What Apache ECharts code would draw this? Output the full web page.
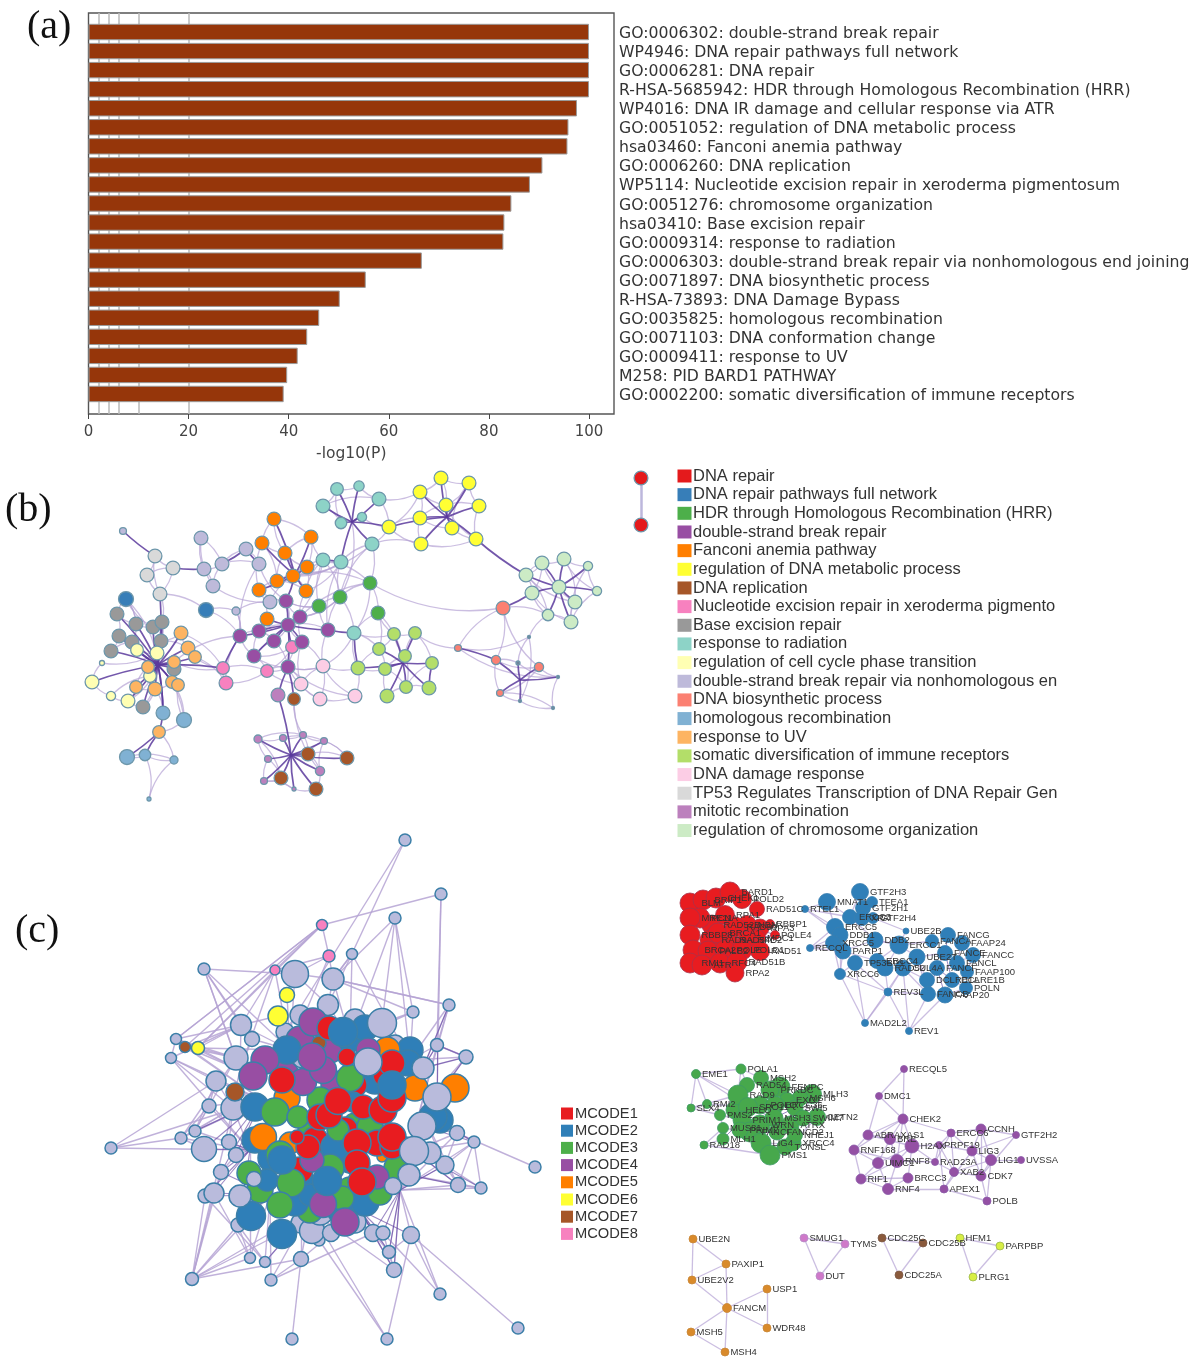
<!DOCTYPE html>
<html><head><meta charset="utf-8">
<style>html,body{margin:0;padding:0;background:#fff}#c{width:1200px;height:1370px}</style>
<script src="https://cdn.jsdelivr.net/npm/echarts@6/dist/echarts.min.js"></script>
</head><body><div id="c"></div>
<script>
// ---------- panel (a) ----------
const terms = ["GO:0006302: double-strand break repair","WP4946: DNA repair pathways full network","GO:0006281: DNA repair","R-HSA-5685942: HDR through Homologous Recombination (HRR)","WP4016: DNA IR damage and cellular response via ATR","GO:0051052: regulation of DNA metabolic process","hsa03460: Fanconi anemia pathway","GO:0006260: DNA replication","WP5114: Nucleotide excision repair in xeroderma pigmentosum","GO:0051276: chromosome organization","hsa03410: Base excision repair","GO:0009314: response to radiation","GO:0006303: double-strand break repair via nonhomologous end joining","GO:0071897: DNA biosynthetic process","R-HSA-73893: DNA Damage Bypass","GO:0035825: homologous recombination","GO:0071103: DNA conformation change","GO:0009411: response to UV","M258: PID BARD1 PATHWAY","GO:0002200: somatic diversification of immune receptors"];
const logP = [100,100,100,100,97.6,95.9,95.7,90.7,88.2,84.5,83.1,82.9,66.6,55.4,50.2,46.1,43.7,41.8,39.7,39.0];
const xTicks = [0,20,40,60,80,100];
const guideTicks = [2,4,6,10,20];
const panelLabels = [["(a)",27,27],["(b)",5,510],["(c)",15,931]];

// ---------- panel (b): enrichment-term network, nodes read as [x, y, size] ----------
const bNames = ["DNA repair","DNA repair pathways full network","HDR through Homologous Recombination (HRR)","double-strand break repair","Fanconi anemia pathway","regulation of DNA metabolic process","DNA replication","Nucleotide excision repair in xeroderma pigmentosum","Base excision repair","response to radiation","regulation of cell cycle phase transition","double-strand break repair via nonhomologous end joining","DNA biosynthetic process","homologous recombination","response to UV","somatic diversification of immune receptors","DNA damage response","TP53 Regulates Transcription of DNA Repair Genes","mitotic recombination","regulation of chromosome organization","cell cycle checkpoint"];
const bColors = ["#e41a1c","#377eb8","#4daf4a","#984ea3","#ff7f00","#ffff33","#a65628","#f781bf","#999999","#8dd3c7","#ffffb3","#bebada","#fb8072","#80b1d3","#fdb462","#b3de69","#fccde5","#d9d9d9","#bc80bd","#ccebc5","#6f8299"];
const bTP = [[155,556,12],[173,568,12],[147,575,12],[160,594,12]];
const bNH = [[123,531,6],[201,538,12],[204,569,12],[222,564,12],[213,586,12],[246,549,12],[259,564,12],[270,602,12],[236,611,7]];
const bBL = [[126,599,13],[206,610,13]];
const bBE = [[117,614,12],[136,624,12],[153,627,12],[162,622,12],[119,636,12],[132,642,12],[161,641,12],[111,651,12],[174,669,12],[143,707,12]];
const bCC = [[137,650,11],[157,653,12],[150,676,11],[92,682,12],[111,696,8],[128,701,12],[102,663,5]];
const bUV = [[181,633,12],[188,648,12],[195,657,11],[174,662,11],[148,667,11],[136,687,11],[155,689,12],[172,682,11],[178,685,11],[159,732,11]];
const bHR = [[163,713,12],[184,720,13],[127,757,13],[145,755,10],[174,760,7],[149,799,4]];
const bNE = [[223,668,11],[226,683,12],[267,671,11],[292,647,11]];
const bFA = [[274,519,12],[262,543,12],[311,537,12],[285,553,12],[307,567,12],[293,576,12],[277,581,12],[259,590,12],[306,591,12],[267,619,12]];
const bDS = [[286,601,12],[300,617,12],[288,625,12],[259,631,12],[240,636,12],[274,641,12],[302,642,12],[254,656,12],[288,667,12],[328,630,12]];
const bMI = [[278,695,12],[258,739,7],[283,738,6],[303,735,6],[324,741,6],[268,759,6],[320,771,8],[264,781,6],[294,789,4]];
const bRP = [[294,699,11],[308,754,12],[347,758,12],[281,778,12],[316,789,12]];
const bDD = [[323,666,12],[301,684,12],[320,699,12],[355,696,12]];
const bRD = [[337,489,11],[359,486,9],[379,499,12],[323,506,12],[341,523,10],[362,517,8],[372,544,12],[323,560,12],[341,562,12],[354,633,12]];
const bYL = [[389,527,12],[441,478,12],[469,483,12],[420,492,12],[446,505,12],[479,506,12],[420,518,12],[452,528,12],[421,544,12],[476,539,12]];
const bHD = [[370,583,12],[340,597,12],[319,606,12],[378,613,12]];
const bSO = [[394,634,11],[415,633,11],[379,649,11],[405,656,11],[432,663,11],[358,668,12],[385,669,11],[406,687,11],[429,688,12],[387,696,12]];
const bBS = [[503,608,12],[458,648,6],[496,660,8],[539,667,8],[500,693,6]];
const bSB = [[529,637,3],[518,663,4],[558,677,3],[520,701,3],[553,708,3]];
const bCH = [[542,563,12],[564,559,12],[588,566,8],[526,575,12],[559,587,12],[532,593,12],[597,591,8],[575,602,12],[548,615,10],[571,622,12]];
const bBundles = [["h1",158,665],["h2",288,625],["h3",403,663],["h5",352,522],["h6",447,517],["h7",291,755],["h8",520,680],["h9",295,575]];
const bKey = [[641,478,12],[641,525,12]];
const bGroups = [["TP",bTP,17],["NH",bNH,11],["BL",bBL,1],["BE",bBE,8],["CC",bCC,10],["UV",bUV,14],["HR",bHR,13],["NE",bNE,7],["FA",bFA,4],["DS",bDS,3],["MI",bMI,18],["RP",bRP,6],["DD",bDD,16],["RD",bRD,9],["YL",bYL,5],["HD",bHD,2],["SO",bSO,15],["BS",bBS,12],["SB",bSB,20],["CH",bCH,19],["KEY",bKey,0]];
const bDark = "h1:BE1,BE2,BE3,BE4,BE5,BE6,BE7,BE8,BE9,CC0,CC1,CC2,CC3,CC5,UV0,UV1,UV2,UV3,UV4,UV5,UV6,UV7,UV8,NE0,TP3,HR0,BE0;h9:FA0,FA1,FA2,FA3,FA4,FA5,FA6,FA7,FA8,DS0;h2:DS0,DS1,DS3,DS4,DS5,DS6,DS7,DS8,DS9,FA9,NE3;h5:RD0,RD1,RD2,RD3,RD4,RD5,RD6,YL0,RD8;h6:YL0,YL1,YL2,YL3,YL4,YL5,YL6,YL7,YL8,YL9;h3:SO0,SO1,SO2,SO3,SO4,SO5,SO6,SO7,SO8,SO9;h7:MI0,MI1,MI2,MI3,MI4,MI5,MI6,MI7,MI8,RP1,RP2,RP3,RP4;CH4:CH0,CH1,CH2,CH3,CH5,CH6,CH7,CH8,CH9;h8:BS2,BS3,BS4,SB1,SB2,SB3;DS8:MI0,RP0;DS4:NE0;TP1:NH2;NH0:TP0;NH3:NH5;NH5:NH6;RD8:RD7;UV9:HR0,HR2,HR3;HR0:h1;DS9:RD9;RD9:SO5;BS0:CH5;BS2:BS1;YL9:CH3;SO4:SO8";
const bLight = "TP0:TP1,TP2,TP3;TP1:TP2,TP3;TP2:TP3;NH1:NH2,NH3,NH4;NH2:NH3,NH4;NH3:NH4,NH6;NH5:NH3,NH6;NH4:NH7;NH6:DS0;NH7:NH8,h9;NH8:BL1,DS4;BL1:TP3,DS4;BL0:BE0,BE1,BE2,h1;UV9:HR1,HR4;HR1:h1;HR2:HR3,HR4;HR3:HR4,HR5;HR4:HR5;CC3:CC4,CC6;CC4:CC5,CC2;CC6:CC1;CC5:h1;NE0:NE1,NE2;NE1:NE2,DS4;NE2:NE3,DS8,DD1;NE3:DS8,DS7;DD0:DD1,DD2,DD3,DS8,SO5;DD1:DD2;DD2:DD3;DD3:SO5,DS8;RP0:MI6;RP2:MI4;HD0:HD1,HD3,BS0,RD9,h9;HD1:HD2,DS1,h5,RD8;HD2:DS9,DS0;HD3:RD9,h3;RD9:HD1,DD0,SO5;RD6:RD8,YL8,YL0,h9;RD7:h9,h2,RD8;RD8:DS9,h9;RD0:RD1,RD3;RD1:RD2;RD2:RD3,YL0;RD4:RD3,RD0;YL0:YL3,YL6,YL8;YL3:YL1,YL6;YL1:YL2,YL4;YL2:YL5,YL4;YL5:YL9;YL7:YL9;YL8:YL9,YL6;CH3:CH0,CH5;CH0:CH1;CH1:CH2;CH2:CH6;CH8:SB0,CH9,BS0;CH7:CH9;CH5:CH8;BS0:BS1,BS2,BS3;BS1:SB0,SO1,SB2;BS2:BS3,SB1,BS4;BS3:SB2,BS4;BS4:SB3,SB4;SB0:SB1,SB3;SB2:SB4,SB1;SB3:SB4;FA0:FA1,FA2,FA3;FA1:FA3,FA6,FA7;FA2:FA3,FA4,RD7;FA3:FA4,FA5,FA6;FA4:FA5,FA8,RD7;FA5:FA6,FA8,RD8;FA6:FA7,FA8;FA7:DS0,FA9;FA8:DS1,RD7,RD8;DS0:DS1,DS2,HD2;DS1:DS6,DS2,HD1,HD0;DS2:DS3,DS5,DS6,DS9;DS3:DS4,DS5,DS7;DS4:DS7,NH6,NH8;DS5:DS7,DS8;DS6:DS8,DD0,DD1;DS7:DS8,NE2;DS8:DD0,DD1,DD2,NE2;DS9:DD0,HD1;RD7:HD2,HD1;RD6:HD1,HD0;HD0:RD7;RD9:SO0,SO2;SO0:SO1,SO2,SO3;SO1:SO3,SO4;SO2:SO5,SO6;SO3:SO6,SO7;SO4:SO7;SO5:SO6;SO6:SO9,SO7;SO7:SO9,SO8;HD3:SO0,SO2;BE0:BE1,BE4;BE1:BE2,BE5,BL0;BE2:BE3;BE3:TP3,BE6;BE4:BE5,BE7;BE5:BE7,CC0;BE6:UV0,UV1;CC0:CC1;UV0:UV1,NE0;UV1:UV2;UV2:NE0,NE1;UV3:NE0,DS4;UV4:UV5;UV5:UV6,CC5;UV6:UV7,HR0;UV7:UV8,HR1;UV8:HR1;BE8:UV7;BE9:UV6,CC5,h1;YL3:YL4;YL6:YL7,YL4;YL4:YL7,YL5,YL9;YL2:YL7;RD2:YL3;RD5:YL0;CH0:CH3,CH5,CH7;CH1:CH6,CH7;CH3:CH7,CH8;CH5:CH9;CH2:CH9;CH6:CH9;MI1:MI2,MI3,MI5,RP3;MI2:MI3,MI4;MI3:MI4,RP1;MI4:RP1,RP2,MI6;MI5:MI7,RP3;MI6:RP1,RP4;MI7:RP3,MI8;RP0:MI3;RP2:RP1;MI8:RP4,RP3";
const keyLink = "KEY0:KEY1";

// ---------- panel (c): protein network ----------
const mcodeNames = ["MCODE1","MCODE2","MCODE3","MCODE4","MCODE5","MCODE6","MCODE7","MCODE8","unclustered"];
const mcodeColors = ["#e81c20","#2f7fb8","#4daf4a","#984ea3","#ff7f00","#ffff33","#a65628","#f781bf","#b9bbdc"];
const cP = [[405,840,12],[441,894,12],[395,918,12],[352,954,11],[204,969,12],[449,1005,12],[413,1012,12],[437,1045,13],[466,1057,14],[176,1039,11],[171,1058,11],[111,1148,12],[181,1138,12],[195,1131,12],[457,1133,15],[474,1142,12],[535,1167,12],[458,1185,15],[481,1188,12],[445,1165,18],[192,1279,13],[250,1258,11],[265,1262,11],[301,1259,15],[271,1280,12],[319,1240,12],[389,1252,13],[394,1270,15],[440,1294,12],[518,1328,12],[387,1339,12],[292,1339,12]];
const cM = [[295,974,27],[333,979,22],[328,1005,21],[241,1025,21],[252,1039,15],[285,1032,18],[236,1058,24],[216,1081,20],[209,1106,14],[233,1108,24],[204,1149,25],[229,1142,15],[236,1155,15],[221,1172,15],[205,1196,14],[214,1193,20],[238,1225,14],[301,1223,20],[312,1231,25],[331,1233,17],[373,1233,17],[383,1233,14],[411,1235,17],[430,1153,22],[303,1056,24]];
const cLF = [[382,1023,29],[368,1062,28],[423,1068,22],[437,1097,28],[422,1126,28],[414,1151,29],[409,1175,22],[393,1186,17],[254,1179,15],[240,1196,22]];
const cFL = [[320,1030,24],[300,1015,20],[355,1020,22],[395,1045,20],[320,1212,26],[355,1222,22]];
const cFU = [[300,1040,28],[285,1075,28],[335,1085,28],[330,1050,26]];
const cFB = [[375,1080,28],[410,1050,26],[350,1160,26],[300,1180,26],[255,1140,26],[340,1210,26],[385,1180,24],[350,1040,24],[440,1120,26]];
const cFG = [[320,1100,26],[260,1190,26],[350,1190,26],[310,1210,26],[405,1150,26],[310,1130,24],[355,1125,24]];
const cFR = [[315,1140,26],[345,1130,26],[300,1170,26],[355,1085,24],[385,1075,24],[340,1145,22]];
const cBback = [[365,1028,26],[287,1050,28],[408,1063,26],[433,1117,28],[353,1102,20],[255,1107,28],[335,1147,28],[272,1158,28],[267,1180,22],[295,1203,26],[310,1195,22],[365,1202,28],[251,1216,29],[282,1234,29]];
const cO = [[387,1050,26],[287,1098,26],[263,1137,27],[290,1143,22],[415,1088,26],[455,1088,28],[382,1157,10]];
const cG = [[350,1078,27],[275,1112,28],[298,1117,22],[338,1130,22],[370,1127,26],[249,1173,24],[280,1155,28],[330,1168,28],[291,1183,28],[280,1205,26],[342,1198,24],[397,1168,26],[380,1193,24]];
const cU = [[313,1022,28],[265,1060,28],[253,1076,28],[303,1082,27],[323,1070,27],[368,1050,24],[312,1057,28],[312,1160,24],[377,1177,24],[323,1204,27],[345,1222,28]];
const cR = [[329,1028,24],[282,1080,26],[347,1057,18],[392,1063,26],[320,1117,26],[329,1115,26],[338,1101,27],[363,1107,24],[383,1110,28],[392,1098,28],[377,1143,26],[392,1147,24],[308,1147,24],[297,1137,14]];
const cBfront = [[343,1032,29],[392,1085,28],[282,1160,28],[327,1181,29]];
const cRfront = [[357,1143,28],[392,1137,28],[357,1163,26],[362,1182,28]];
const cBR = [[235,1092,18],[185,1047,11],[319,1043,14]];
const cYW = [[198,1048,13],[287,995,15],[278,1016,20]];
const cPK = [[322,925,11],[329,956,12],[275,970,10]];
const cBundles = [["A0",262,1100],["A1",250,1150],["A2",270,1195],["A3",310,1210],["A4",360,1210],["A5",400,1190],["A6",420,1110],["A7",410,1060],["A8",350,1040],["A9",290,1050],["A10",320,1130],["A11",240,1070]];
const cGroups = [["P",cP,8],["M",cM,8],["FL",cFL,8],["FU",cFU,3],["FB",cFB,1],["FG",cFG,2],["FR",cFR,0],["BK",cBback,1],["O",cO,4],["G",cG,2],["BR",cBR,6],["U",cU,3],["R",cR,0],["BF",cBfront,1],["RF",cRfront,0],["LF",cLF,8],["YW",cYW,5],["PK",cPK,7]];
const cLight = "P0:M5;P1:PK0,P7;P2:A8,P6;P3:A8;P4:M3,M4,A11,M6;P5:M1,A7,P7;P6:A7,A8;P7:A7,A6;P8:A7,A6,P7;P9:A11,M3,M6,A0,PK0;P10:A0,A1,M9;P11:M7,P12,A1;P12:A1,A0,M10;P13:A1,A0,M9;P14:A6,A5,P16;P15:A6,A5,P18;P17:A5,A6;P18:A5;P19:A5,A6;P20:M14,M15,M16,P21,A2,A3,M17;P21:A2,M16;P22:A2,A3;P23:A3,P31,P24,M17;P24:A3,M20;P25:P30,A3;P26:A4,A5;P27:A4,A5,M20;P28:A5;P29:M22;P30:M22;PK0:PK1,PK2,YW0,BR1,P9;PK1:M1,A9,PK2;PK2:M0,A9,YW0;M0:A9;M1:A8,P5;M2:A8;YW0:A11,A9,M3;BR1:A11,A0,M3;YW1:A9;YW2:A9;M3:A9,A11;M6:A11;M7:A0;M8:A0;M9:A0,A1;M22:A5;LF6:A5,A6;BR0:A0,A11;P4:M0,A9;P9:P10;P10:M7,M3;P11:A0;P12:M8,M9,M6;P13:M7,M8,M6;M4:A9,A11;M5:A9;M8:M7,A1;M7:M9;M9:M11;M11:M12;M12:M13;M13:M15;P20:M13,M9,P23;P21:M15,A1;P22:M14,M16;P23:A4;P24:A2;P25:A4,M18;P26:M20,P27,M22;P27:M21,A3;P28:M22,M21;P30:A3;P14:P15,LF5,P19;P15:LF5,P19,P17;P17:P18,LF5,LF6;P18:P19,LF6;P19:P17,M23;P5:A6,LF2;P6:LF0,M1;P7:P8,LF2;P8:LF2,LF3;M0:M1,M2;M1:M2,P3;P3:M1,A7;P2:M1,LF0,A7;P0:M2;P1:LF3;PK2:A11,M3;PK1:M0;BR1:M6;YW0:M6;YW2:M3";
const cDark = "M10:A1,A0;M11:A1,A0;M12:A1,A0;M13:A1,A2,A0;M14:A2,A1;M15:A2,A1;M16:A2,A1;M17:A3;M18:A3;M19:A3,A4;M20:A4,A5,A3;M21:A5,A4,A3;M22:A4;P14:A6,LF4;P15:LF4,A6;P17:LF6,LF5;P18:LF5;P19:LF5,A5;P8:LF3,LF2;P7:LF2,LF3,P8;P5:LF2;P13:A0;P26:A5,A4;P27:A5,A4;P22:A3";

// ---------- panel (c): MCODE modules, [gene, x, y, size] ----------
const moduleNames = ["m1","m2","m3","m4","m5","m6","m7","m8"];
const moduleColors = ["#e81c20","#2f7fb8","#47a84c","#9450a4","#d98a2b","#cf79c9","#8a5a3c","#d8ee45"];
const moduleBorders = ["#a8324a","#3a7fb0","#3f9a66","#8a5aa8","#c8883a","#b58cc8","#7c5a48","#9ab84a"];
const mod1 = [["RAD52B",712,925,20],["RAD54L",728,940,20],["RAD9A",710,940,20],["RPA3",760,928,18],["MDC1",757,938,17],["BLM",690,903,20],["BRIP1",703,900,20],["CHEK1",716,898,20],["BARD1",730,892,20],["POLD2",742,899,19],["RAD51C",757,909,15],["RPA1",725,915,19],["PCNA",700,918,20],["MRE11",690,918,20],["NBN",747,925,19],["RBBP1",770,924,9],["POLE4",775,935,9],["RBBP8",690,935,20],["BRCA1",718,933,20],["RAD50",735,927,20],["RFC2",747,940,18],["RAD51",760,951,19],["BRCA2",693,950,20],["PALB2",708,951,20],["POLE",725,950,20],["POLD1",742,950,20],["RMI1",690,963,20],["ATR",702,965,20],["RFC4",720,963,20],["RAD51B",737,962,20],["RPA2",735,973,18]];
const mod2 = [["GTF2H3",860,892,17],["MNAT1",827,902,17],["TFEA1",872,902,11],["RTEL1",805,909,7],["GTF2H1",863,908,15],["ERCC3",850,917,15],["XPA",862,918,15],["GTF2H4",873,918,11],["UBE2B",906,931,6],["ERCC5",835,927,17],["DDB1",840,935,16],["XRCC5",833,943,15],["RECQL",810,948,7],["PARP1",843,951,16],["DDB2",875,940,16],["ERCC1",899,945,18],["FANCA",932,941,13],["FANCG",948,935,15],["FAAP24",962,943,15],["FANCC",973,955,15],["UBE2T",917,957,16],["FANCE",945,953,15],["FANCL",957,963,15],["FANCF",937,968,15],["FAAP100",967,972,13],["DCLRE1A",927,980,15],["DCLRE1B",952,980,15],["POLN",966,988,13],["FANCB",928,994,15],["FAAP20",945,995,16],["TP53BP1",855,963,15],["ERCC4",877,961,15],["RAD52",885,968,16],["CUL4A",903,968,16],["XRCC6",840,974,11],["REV3L",888,992,8],["MAD2L2",865,1023,7],["REV1",909,1031,7]];
const mod3 = [["POLQ",760,1105,18],["WRN",760,1125,20],["ATRX",790,1125,18],["HELQ",735,1110,18],["TONSL",785,1147,16],["EME1",696,1074,9],["POLA1",741,1069,10],["SLX4",691,1108,8],["RMI2",707,1104,9],["PMS2",720,1115,11],["MUS81",723,1128,11],["MLH1",723,1139,12],["RAD18",704,1145,8],["RAD54",747,1085,15],["MSH2",761,1078,15],["FENPC",780,1087,20],["PRKDC",770,1090,18],["RAD9",738,1095,20],["MLH3",812,1094,19],["MSH6",800,1098,16],["EXO1",787,1100,15],["SPO11",748,1107,19],["BRCC36",775,1105,18],["CETN2",817,1117,17],["PRIM1",742,1120,18],["MSH3",774,1118,18],["SWI5",795,1108,16],["SWIM7",803,1118,16],["FANCI",750,1132,20],["PRIM2",740,1130,16],["LIG4",761,1143,20],["PMS1",770,1155,20],["XRCC4",793,1143,16],["NHEJ1",795,1135,15],["FANCD2",777,1132,16]];
const mod4 = [["RECQL5",904,1069,7],["DMC1",879,1096,7],["CHEK2",903,1119,10],["ERCC6",951,1133,8],["CCNH",981,1129,10],["GTF2H2",1016,1135,7],["ABRAXAS1",868,1135,10],["BRE",890,1139,11],["H2AX",912,1146,14],["PRPF19",939,1145,7],["RNF168",854,1150,10],["LIG3",972,1151,10],["UIMC1",878,1163,11],["RNF8",897,1161,13],["RAD23A",935,1162,7],["LIG1",991,1160,11],["UVSSA",1021,1160,7],["XAB2",954,1172,9],["CDK7",981,1176,10],["RIF1",861,1179,10],["BRCC3",908,1178,10],["RNF4",888,1189,11],["APEX1",944,1189,8],["POLB",987,1201,8]];
const mod5 = [["UBE2N",693,1239,8],["PAXIP1",726,1264,8],["UBE2V2",692,1280,8],["USP1",767,1289,8],["FANCM",727,1308,9],["WDR48",767,1328,8],["MSH5",691,1332,8],["MSH4",725,1352,8]];
const mod6 = [["SMUG1",804,1238,8],["TYMS",845,1244,8],["DUT",820,1276,8]];
const mod7 = [["CDC25C",882,1238,8],["CDC25B",923,1243,8],["CDC25A",899,1275,8]];
const mod8 = [["HFM1",960,1238,8],["PARPBP",1000,1246,8],["PLRG1",973,1277,8]];
const modules = [mod1,mod2,mod3,mod4,mod5,mod6,mod7,mod8];
const modDark = "RAD50:BRCA1,NBN,RPA1;RBBP1:NBN,RAD50;POLE4:RFC2,NBN;FANCE:FANCG,FANCF,FANCL,DCLRE1B;FANCF:FANCB,FAAP20,DCLRE1B;MSH3:BRCC36,PRIM1,SWI5,SPO11;FANCD2:MSH3,SWIM7,PRIM1,FANCI;SWI5:SWIM7,MSH6;PRIM1:RAD9,MLH1;DDB1:ERCC5,XRCC5;ERCC3:XPA";
const modLight = "RTEL1:MNAT1,ERCC5,DDB1,ERCC3;RECQL:ERCC5,DDB1,PARP1,XRCC5;XRCC6:PARP1,XRCC5,TP53BP1,DDB1,REV3L,MAD2L2;REV3L:TP53BP1,RAD52,MAD2L2,REV1,CUL4A,FANCB;MAD2L2:TP53BP1,CUL4A;REV1:FANCB,FAAP20,CUL4A;UBE2B:ERCC1,GTF2H4;ERCC1:UBE2T,DDB2,FANCA,RAD52,ERCC4;PARP1:ERCC4,TP53BP1,DDB2;DDB2:ERCC3,ERCC1;MNAT1:ERCC5,ERCC3;GTF2H3:XPA,ERCC3,GTF2H1;UBE2T:FANCB,DCLRE1A,FANCE;CUL4A:DCLRE1A,FANCB;FAAP24:FANCG,FANCC,FANCL;POLN:FAAP20,DCLRE1B;FANCC:FAAP100,FANCL;EME1:POLA1,SLX4,RAD9,RMI2,SPO11;POLA1:RAD54,RAD9,MSH2;SLX4:RMI2,PMS2,RAD9;RMI2:PMS2,SPO11;RAD18:MLH1,MUS81,PMS1;PMS2:PRIM1,MUS81;MUS81:FANCI;MLH3:SWIM7,MSH6;CETN2:XRCC4,SWIM7;XRCC4:NHEJ1,LIG4;PMS1:XRCC4;RECQL5:DMC1,CHEK2;DMC1:CHEK2,ABRAXAS1;CHEK2:ABRAXAS1,H2AX,BRE,RNF8,RNF168,ERCC6;H2AX:RNF8,UIMC1,BRCC3,PRPF19,ABRAXAS1,RAD23A;RNF168:RIF1,UIMC1,ABRAXAS1,RNF8;RIF1:RNF4,UIMC1,RNF8,BRCC3;RNF4:UIMC1,BRCC3,APEX1,RNF8;BRE:RNF8,UIMC1,ABRAXAS1;APEX1:POLB,XAB2,LIG3,PRPF19;POLB:CDK7,LIG1;ERCC6:CCNH,LIG3,PRPF19,XAB2;CCNH:GTF2H2,LIG3,CDK7,LIG1;GTF2H2:LIG3,CDK7;LIG3:LIG1,CDK7,PRPF19;LIG1:UVSSA,CDK7,XAB2;XAB2:PRPF19,RAD23A,CDK7;RAD23A:PRPF19,ERCC6,RNF8;UBE2N:PAXIP1,UBE2V2;PAXIP1:UBE2V2,FANCM;UBE2V2:FANCM;FANCM:USP1,WDR48,MSH5,MSH4;USP1:WDR48;MSH5:MSH4;SMUG1:TYMS,DUT;TYMS:DUT;CDC25C:CDC25B,CDC25A;CDC25B:CDC25A;HFM1:PARPBP,PLRG1;PARPBP:PLRG1";

// ---------- helpers ----------
const DARK={color:"#5a3a9c",width:1.7,opacity:.85}, LIGHT={color:"#b5a3d4",width:1.3,opacity:.7};
function stars(s,style,curve){
  const out=[];
  s.split(";").forEach(p=>{const [a,bs]=p.split(":");bs.split(",").forEach((b,i)=>{
    out.push({source:a,target:b,lineStyle:Object.assign({},style,{curveness:curve?(i%2?curve:-curve):0})});});});
  return out;
}
function nodesFrom(groups,grow){
  const out=[];
  groups.forEach(([pre,arr,cat])=>arr.forEach((n,i)=>out.push({id:pre+i,name:pre+i,value:[n[0],n[1]],symbolSize:n[2]*(n[2]>=6?grow:1),category:cat})));
  return out;
}
function hidden(list,cat){return list.map(h=>({id:h[0],name:h[0],value:[h[1],h[2]],symbolSize:0,category:cat,itemStyle:{opacity:0}}));}
const cats=(names,colors,border,bw)=>names.map((n,i)=>({name:n,itemStyle:{color:colors[i],borderColor:Array.isArray(border)?border[i]:border,borderWidth:bw}}));
const legendItems=(names,colors,n,bw)=>names.slice(0,n).map((name,i)=>({name,itemStyle:{color:colors[i],borderColor:colors[i],borderWidth:bw}}));
const modNodes=[];
modules.forEach((m,k)=>m.forEach(n=>modNodes.push({id:n[0],name:n[0],value:[n[1],n[2]],symbolSize:n[3],category:k,
  label:{show:true,position:"right",distance:1,fontFamily:"Liberation Sans",fontSize:9.5,color:"#333",formatter:"{b}"}})));

const canvasAxes={x:{type:"value",gridIndex:2,min:0,max:1200,show:false},y:{type:"value",gridIndex:2,min:0,max:1370,inverse:true,show:false}};
const graphBase={type:"graph",layout:"none",coordinateSystem:"cartesian2d",xAxisIndex:2,yAxisIndex:2,roam:false,silent:true,animation:false,emphasis:{disabled:true},z:5};

const chart=echarts.init(document.getElementById("c"),null,{renderer:"canvas"});
chart.setOption({
  animation:false,backgroundColor:"#fff",
  textStyle:{fontFamily:"DejaVu Sans"},
  graphic:panelLabels.map(l=>({type:"text",left:l[1],top:l[2]-20,z:20,style:{text:l[0],font:"40px 'Liberation Serif'",fill:"#111"}})),
  grid:[
    {left:88.5,top:13,width:525.5,height:401,show:true,borderColor:"#555",borderWidth:1.4,backgroundColor:"#fff"},
    {left:88.5,top:22.5,width:525.5,height:381},
    {left:0,top:0,width:1200,height:1370},
    {left:88.5,top:24.5,width:525.5,height:381}
  ],
  xAxis:[
    {type:"value",gridIndex:0,min:0,max:105,axisLine:{show:false},splitLine:{show:false},
      axisTick:{show:true,length:5,customValues:xTicks,lineStyle:{color:"#444"}},
      axisLabel:{customValues:xTicks,fontSize:15,color:"#444",margin:11,fontFamily:"DejaVu Sans"},
      name:"-log10(P)",nameLocation:"middle",nameGap:32,nameTextStyle:{fontSize:15.5,color:"#444",fontFamily:"DejaVu Sans"}},
    {type:"value",gridIndex:1,min:0,max:105,show:false},
    canvasAxes.x,
    {type:"value",gridIndex:3,min:0,max:105,show:false}
  ],
  yAxis:[
    {type:"value",gridIndex:0,min:0,max:1,show:false},
    {type:"category",gridIndex:1,data:terms,inverse:true,show:false},
    canvasAxes.y,
    {type:"category",gridIndex:3,data:terms,inverse:true,position:"right",axisLine:{show:false},axisTick:{show:false},
      axisLabel:{interval:0,align:"left",margin:5,fontSize:15.7,color:"#333",fontFamily:"DejaVu Sans"}}
  ],
  legend:[
    {data:legendItems(bNames,bColors,20,7),orient:"vertical",left:677.5,top:467.5,padding:0,itemWidth:7,itemHeight:6,itemGap:1.66,icon:"rect",selectedMode:false,
      textStyle:{fontSize:16.5,color:"#333",fontFamily:"Liberation Sans",width:373,overflow:"truncate",ellipsis:""}},
    {data:legendItems(mcodeNames,mcodeColors,8,6),orient:"vertical",left:561,top:1106,padding:0,itemWidth:6,itemHeight:6,itemGap:2.2,icon:"rect",selectedMode:false,
      textStyle:{fontSize:14.7,color:"#333",fontFamily:"Liberation Sans"}}
  ],
  series:[
    {type:"scatter",xAxisIndex:0,yAxisIndex:0,data:[],z:1,silent:true,
      markLine:{z:1,silent:true,symbol:"none",label:{show:false},animation:false,lineStyle:{color:"#b8b8b8",width:1.5,type:"solid"},data:guideTicks.map(v=>({xAxis:v}))}},
    {type:"bar",xAxisIndex:1,yAxisIndex:1,data:logP,barWidth:16.4,z:2,silent:true,itemStyle:{color:"#96360a",borderColor:"#9a9a9a",borderWidth:1}},
    Object.assign({},graphBase,{name:"terms",categories:cats(bNames,bColors,"#6d97ab",1.3),
      data:nodesFrom(bGroups,1.15).concat(hidden(bBundles,20)),
      links:stars(bLight,LIGHT,.18).concat(stars(bDark,DARK,.05)).concat(stars(keyLink,{color:"#bdb7dc",width:2.5,opacity:1},0))}),
    Object.assign({},graphBase,{name:"genes",categories:cats(mcodeNames,mcodeColors,"#3c7fa8",1.5),
      data:hidden(cBundles,8).concat(nodesFrom(cGroups,1)),
      links:stars(cLight,Object.assign({},LIGHT,{opacity:.85,width:1.4}),0).concat(stars(cDark,Object.assign({},DARK,{width:1.1,opacity:.6}),0))}),
    Object.assign({},graphBase,{name:"modules",categories:cats(moduleNames,moduleColors,moduleBorders,.8),
      data:modNodes,
      links:stars(modLight,Object.assign({},LIGHT,{opacity:.7}),0).concat(stars(modDark,Object.assign({},DARK,{width:1,opacity:.6}),0))})
  ]
});
</script></body></html>
